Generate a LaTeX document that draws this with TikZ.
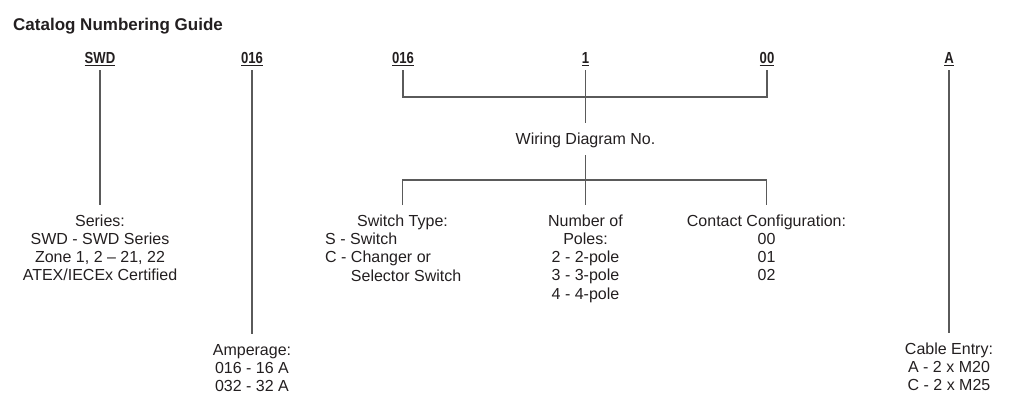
\documentclass[tikz,border=0pt]{standalone}
\usepackage{fontspec}
\setmainfont{Liberation Sans}
\usepackage{graphicx}
\definecolor{txt}{HTML}{231F20}
\definecolor{ln}{HTML}{5A5A5A}
\newcommand\codeul[1]{\setbox0\hbox{#1}\rlap{\rule[-2.9pt]{\wd0}{1.2pt}}\box0}
\newcommand\codetxt[1]{\scalebox{0.82}[1]{\codeul{#1}}}
\begin{document}
\begin{tikzpicture}[x=1pt,y=-1pt,
  every node/.style={text=txt},
  codebox/.style={font=\fontsize{16}{19}\selectfont\bfseries, anchor=base, inner sep=0pt, text height=11pt, text depth=6.5pt},
  blockbox/.style={font=\fontsize{16}{18.2}\selectfont, anchor=north, inner sep=0pt, text height=21pt},
  conn/.style={draw=ln, line width=1.2pt}]
\useasboundingbox (0,0) rectangle (1024,414);

\node[anchor=base west, inner sep=0pt, font=\fontsize{17}{20}\selectfont\bfseries] (title) at (13,31) {Catalog Numbering Guide};

% codes
\node[codebox] (cswd) at (100,63.5) {\codetxt{SWD}};
\node[codebox] (camp) at (252,63.5) {\codetxt{016}};
\node[codebox] (cwd) at (403,63.5) {\codetxt{016}};
\node[codebox] (cone) at (585.5,63.5) {\codetxt{1}};
\node[codebox] (czero) at (767,63.5) {\codetxt{00}};
\node[codebox] (ccab) at (949,63.5) {\codetxt{A}};

% wiring
\node[font=\fontsize{16}{18.2}\selectfont, anchor=base, inner sep=0pt, text height=21.7pt, text depth=10.3pt] (wiring) at (585.5,144.7) {Wiring Diagram No.};

% bottom blocks
\node[blockbox] (series) at (100,205) {\begin{tabular}[t]{@{}c@{}}Series:\\SWD - SWD Series\\Zone 1, 2 – 21, 22\\ATEX/IECEx Certified\end{tabular}};
\node[blockbox] (amp) at (252,334) {\begin{tabular}[t]{@{}c@{}}Amperage:\\016 - 16 A\\032 - 32 A\end{tabular}};
\node[blockbox] (cable) at (949,333) {\begin{tabular}[t]{@{}c@{}}Cable Entry:\\A - 2 x M20\\C - 2 x M25\end{tabular}};
\node[blockbox] (swtitle) at (402.5,205) {Switch Type:};
\node[font=\fontsize{16}{18.2}\selectfont, anchor=base west, inner sep=0pt] (swlist) at (325,244.7) {\begin{tabular}[t]{@{}l@{}}S - Switch\\C - Changer or\\\phantom{C - }Selector Switch\end{tabular}};
\node[blockbox] (poles) at (585.5,205) {\begin{tabular}[t]{@{}c@{}}Number of\\Poles:\\2 - 2-pole\\3 - 3-pole\\4 - 4-pole\end{tabular}};
\node[blockbox] (contact) at (766.5,205) {\begin{tabular}[t]{@{}c@{}}Contact Configuration:\\00\\01\\02\end{tabular}};

\coordinate (tsplit) at (585.5,97);
\coordinate (bsplit) at (585.5,180);

% connectors
\draw[conn] (cswd.south) -- (series.north);
\draw[conn] (camp.south) -- (amp.north);
\draw[conn] (ccab.south) -- (cable.north);
\draw[conn] (cwd.south) |- (tsplit) -| (czero.south);
\draw[conn] (cone.south) -- (wiring.north);
\draw[conn] (wiring.south) -- (poles.north);
\draw[conn] (swtitle.north) |- (bsplit) -| (contact.north);
\end{tikzpicture}
\end{document}
